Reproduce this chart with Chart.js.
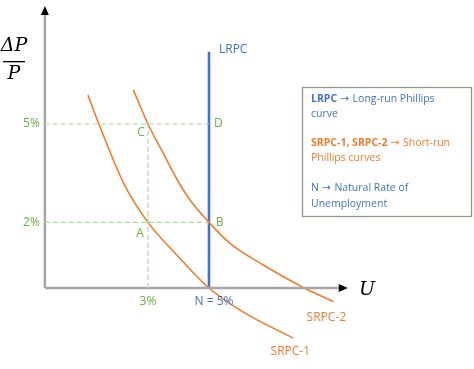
<!DOCTYPE html>
<html>
<head>
<meta charset="utf-8">
<script src="https://cdn.jsdelivr.net/npm/chart.js@4"></script>
<style>
  body { margin: 0; background: #fff; }
  #wrap { width: 474px; height: 369px; }
</style>
</head>
<body>
<div id="wrap"><canvas id="chart" width="474" height="369"></canvas></div>
<script>
// Datos (x = desempleo %, y = inflacion %)
const srpc1 = [[1.03, 5.88], [1.39, 5.0], [2.2, 3.2], [3, 2], [3.9, 1.05], [5, 0], [6.1, -0.72], [7.76, -1.53]];
const srpc2 = [[2.52, 6.04], [3, 5], [3.5, 4.11], [3.94, 3.33], [4.38, 2.68], [5, 2], [5.69, 1.36], [6.78, 0.7], [8.04, 0.04], [9.08, -0.42]];
const lrpc = [[5, 0], [5, 7.2]];
const guide5 = [[-0.38, 5], [5, 5]];
const guide2 = [[-0.38, 2], [5, 2]];
const guide3 = [[3, 0], [3, 5]];
const yAxis = [[-0.38, 0], [-0.38, 8.35]];
const xAxis = [[-0.38, 0], [9.35, 0]];

const yTicks = [[5, '5%'], [2, '2%']];
const xTicks = [[3, '3%', '#70ad47'], [5, 'N = 5%', '#4472c4']];
const points = [['C', 2.78, 4.75], ['D', 5.3, 5], ['A', 2.75, 1.65], ['B', 5.35, 2]];

const BLUE = '#4472c4';
const ORANGE = '#ed7d31';
const GREEN = '#70ad47';
const GUIDE = '#b5d6a0';
const GRAY = '#a6a6a6';

const toXY = (arr) => arr.map(([x, y]) => ({ x, y }));

const serie = (data, color, width, dash, smooth) => ({
	data: toXY(data),
	borderColor: color,
	borderWidth: width,
	borderDash: dash || [],
	pointRadius: 0,
	tension: smooth ? 0.4 : 0,
	cubicInterpolationMode: smooth ? 'monotone' : 'default',
	fill: false
});

// Etiquetas, flechas y cuadro de leyenda
const annotations = {
	id: 'annotations',
	afterDatasetsDraw(chart) {
		const { ctx, scales: { x, y } } = chart;
		const px = (v) => x.getPixelForValue(v);
		const py = (v) => y.getPixelForValue(v);
		ctx.save();

		// Flechas de los ejes
		ctx.fillStyle = '#000';
		ctx.beginPath();
		ctx.moveTo(px(-0.38), py(8.6));
		ctx.lineTo(px(-0.38) - 4, py(8.6) + 9);
		ctx.lineTo(px(-0.38) + 4, py(8.6) + 9);
		ctx.fill();
		ctx.beginPath();
		ctx.moveTo(px(9.55), py(0));
		ctx.lineTo(px(9.55) - 9, py(0) - 4);
		ctx.lineTo(px(9.55) - 9, py(0) + 4);
		ctx.fill();

		ctx.font = '12px "Open Sans"';
		ctx.textBaseline = 'middle';

		ctx.fillStyle = GREEN;
		ctx.textAlign = 'right';
		yTicks.forEach(([v, t]) => ctx.fillText(t, px(-0.38) - 5, py(v)));

		ctx.textAlign = 'center';
		xTicks.forEach(([v, t, c]) => {
			ctx.fillStyle = c;
			ctx.fillText(t, px(v) + (v === 5 ? 5 : 0), py(0) + 14);
		});

		ctx.fillStyle = GREEN;
		ctx.textAlign = 'left';
		points.forEach(([t, vx, vy]) => ctx.fillText(t, px(vx) - 4, py(vy)));

		ctx.fillStyle = BLUE;
		ctx.fillText('LRPC', px(5) + 10, py(7.28));

		ctx.fillStyle = ORANGE;
		ctx.fillText('SRPC-2', px(8.2), py(-0.9));
		ctx.fillText('SRPC-1', px(7.02), py(-1.95));

		// Titulos de ejes
		ctx.fillStyle = '#000';
		ctx.font = 'italic 19px "DejaVu Serif"';
		ctx.textAlign = 'center';
		ctx.fillText('ΔP', 14, 46);
		ctx.fillText('P', 14, 74);
		ctx.fillRect(3, 61, 22, 1.3);
		ctx.fillText('U', 367, py(0) + 2);

		// Cuadro de leyenda
		ctx.strokeStyle = '#8c9a8c';
		ctx.lineWidth = 1.3;
		ctx.strokeRect(302.5, 87.5, 169, 129);

		// Cada parte: texto, negrita, color, fuente opcional
		const line = (parts, lx, ly) => {
			let cx = lx;
			parts.forEach(([t, bold, c, fam]) => {
				ctx.font = (bold ? 'bold ' : '') + '10.5px ' + (fam || '"Open Sans"');
				ctx.fillStyle = c;
				ctx.fillText(t, cx, ly);
				cx += ctx.measureText(t).width;
			});
		};
		const ARROW = ' → ';
		ctx.textAlign = 'left';
		line([['LRPC', true, BLUE], [ARROW, false, BLUE, '"DejaVu Sans"'], ['Long-run Phillips', false, BLUE]], 311, 99);
		line([['curve', false, BLUE]], 311, 114);
		line([['SRPC-1, SRPC-2', true, ORANGE], [ARROW, false, ORANGE, '"DejaVu Sans"'], ['Short-run', false, ORANGE]], 311, 143);
		line([['Phillips curves', false, ORANGE]], 311, 158);
		line([['N', false, BLUE], [ARROW, false, BLUE, '"DejaVu Sans"'], ['Natural Rate of', false, BLUE]], 311, 188);
		line([['Unemployment', false, BLUE]], 311, 204);

		ctx.restore();
	}
};

new Chart(document.getElementById('chart'), {
	type: 'line',
	data: {
		datasets: [
			serie(guide5, GUIDE, 1.2, [5, 3]),
			serie(guide2, GUIDE, 1.2, [5, 3]),
			serie(guide3, GUIDE, 1.2, [5, 3]),
			serie(yAxis, GRAY, 2.5),
			serie(xAxis, GRAY, 2.5),
			serie(srpc1, ORANGE, 1.6, null, true),
			serie(srpc2, ORANGE, 1.6, null, true),
			serie(lrpc, BLUE, 2.6)
		]
	},
	options: {
		responsive: false,
		animation: false,
		layout: { padding: 0 },
		plugins: { legend: { display: false }, tooltip: { enabled: false } },
		scales: {
			x: { type: 'linear', min: -1.852, max: 13.69, display: false },
			y: { type: 'linear', min: -2.47, max: 8.78, display: false }
		}
	},
	plugins: [annotations]
});
</script>
</body>
</html>
